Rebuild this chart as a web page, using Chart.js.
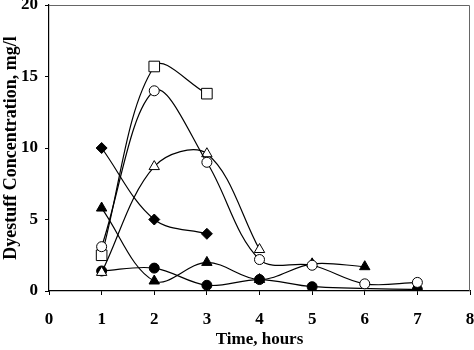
<!DOCTYPE html>
<html>
<head>
<meta charset="utf-8">
<script src="https://cdn.jsdelivr.net/npm/chart.js@4/dist/chart.umd.min.js"></script>
<style>
  html, body { margin: 0; padding: 0; background: #fff; }
  #wrap { width: 474px; height: 350px; position: relative; }
</style>
</head>
<body>
<div id="wrap"><canvas id="dyeChart"></canvas></div>
<script>
// giờ đo
const hours = [1, 2, 3, 4, 5, 6, 7];

// các chuỗi số liệu (null = không có điểm)
const openSquare   = [2.5, 15.7, 13.8, null, null, null, null];
const openCircle   = [3.1, 14.0, 9.0, 2.2, 1.8, 0.5, 0.6];
const openTriangle = [1.3, 8.7, 9.6, 2.9, null, null, null];
const filledDiamond  = [10.0, 5.0, 4.0, null, null, null, null];
const filledTriangle = [5.8, 0.7, 2.0, 0.8, 1.9, 1.7, null];
const filledCircle   = [1.4, 1.6, 0.4, 0.8, 0.3, null, 0.1];

const xTicks = [0, 1, 2, 3, 4, 5, 6, 7, 8];
const yTicks = [0, 5, 10, 15, 20];

const serif = "'Liberation Serif', 'DejaVu Serif', serif";

function toPoints(values) {
    return hours
        .map((h, i) => ({ x: h, y: values[i] }))
        .filter(p => p.y !== null);
}

function makeSet(values, style, radius, filled) {
    return {
        data: toPoints(values),
        showLine: true,
        tension: 0.35,
        borderColor: '#000',
        borderWidth: 1.2,
        pointStyle: style,
        pointRadius: radius,
        pointBorderWidth: 1,
        pointBorderColor: '#000',
        pointBackgroundColor: filled ? '#000' : '#fff'
    };
}

// khung viền trên và phải
const frame = {
    id: 'frame',
    afterDraw(chart) {
        const { ctx, chartArea: a } = chart;
        ctx.save();
        ctx.strokeStyle = '#666';
        ctx.lineWidth = 1;
        ctx.beginPath();
        ctx.moveTo(a.left, a.top + 0.5);
        ctx.lineTo(a.right - 0.5, a.top + 0.5);
        ctx.lineTo(a.right - 0.5, a.bottom);
        ctx.stroke();
        ctx.restore();
    }
};

new Chart(document.getElementById('dyeChart'), {
    type: 'scatter',
    data: {
        datasets: [
            makeSet(openCircle, 'circle', 5, false),
            makeSet(openSquare, 'rect', 7.5, false),
            makeSet(openTriangle, 'triangle', 6, false),
            makeSet(filledDiamond, 'rectRot', 5.5, true),
            makeSet(filledTriangle, 'triangle', 6, true),
            makeSet(filledCircle, 'circle', 5, true)
        ]
    },
    options: {
        responsive: true,
        maintainAspectRatio: false,
        animation: false,
        layout: { autoPadding: false, padding: { top: 5, right: 4, left: 0, bottom: 0 } },
        plugins: {
            legend: { display: false },
            tooltip: { enabled: false }
        },
        scales: {
            x: {
                type: 'linear',
                min: 0,
                max: 8,
                afterBuildTicks: (s) => { s.ticks = xTicks.map(v => ({ value: v })); },
                afterFit: (s) => { s.height = 59; s.paddingLeft = 0; s.paddingRight = 0; },
                grid: { drawOnChartArea: false, tickLength: 4, color: '#000' },
                border: { color: '#000', width: 1.2 },
                ticks: {
                    color: '#000',
                    padding: 14,
                    font: { family: serif, size: 17, weight: 'bold' }
                },
                title: {
                    display: true,
                    text: 'Time, hours',
                    color: '#000',
                    padding: { top: 4, bottom: 0 },
                    font: { family: serif, size: 17, weight: 'bold' }
                }
            },
            y: {
                min: 0,
                max: 20,
                afterBuildTicks: (s) => { s.ticks = yTicks.map(v => ({ value: v })); },
                afterFit: (s) => { s.width = 49; s.paddingTop = 0; s.paddingBottom = 0; },
                grid: { drawOnChartArea: false, tickLength: 4, color: '#000' },
                border: { color: '#000', width: 1.2 },
                ticks: {
                    color: '#000',
                    padding: 7,
                    font: { family: serif, size: 17, weight: 'bold' }
                },
                title: {
                    display: true,
                    text: 'Dyestuff Concentration, mg/l',
                    color: '#000',
                    padding: { top: 1, bottom: 0 },
                    font: { family: serif, size: 18, weight: 'bold' }
                }
            }
        }
    },
    plugins: [frame]
});
</script>
</body>
</html>
